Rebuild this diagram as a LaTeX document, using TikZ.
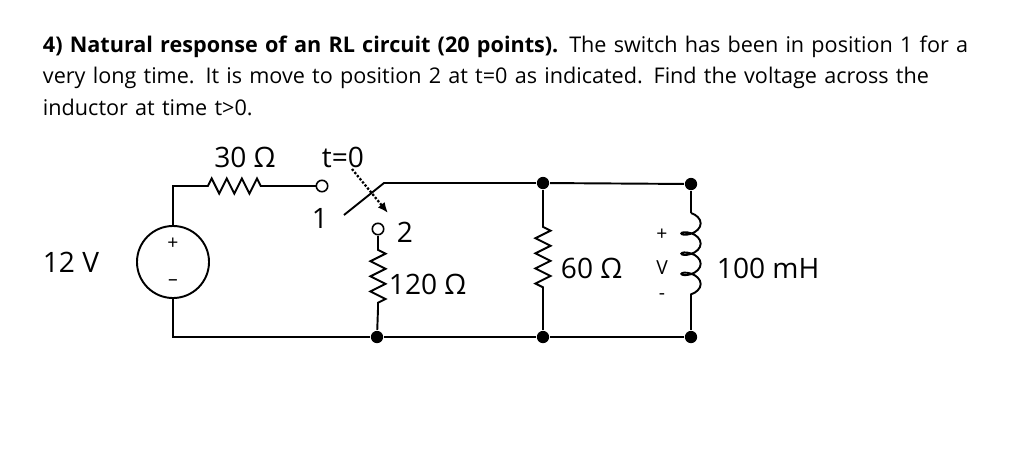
\documentclass[tikz,border=0pt]{standalone}
\usepackage{fontspec}
\setmainfont{Open Sans}
\usetikzlibrary{decorations.pathmorphing, arrows.meta}
\begin{document}
\begin{tikzpicture}[x=0.02cm, y=-0.02cm, line width=1.1pt,
    txt/.style={font=\fontsize{12.3}{18}\selectfont, inner sep=0},
    lbl/.style={font=\fontsize{16}{18}\selectfont, inner sep=0},
    sml/.style={font=\fontsize{11}{11}\selectfont, inner sep=0},
    res/.style={decorate, decoration={zigzag, amplitude=4.3pt, segment length=8.6pt,
        pre length=0.5pt, post length=0.5pt}},
    ind/.style={decorate, decoration={coil, aspect=0.55, amplitude=5.5pt, segment length=11.5pt}},
    dot/.style={circle, fill, inner sep=0, minimum size=7pt},
    term/.style={circle, draw, fill=white, inner sep=0, minimum size=6.5pt, line width=0.9pt}]
  \useasboundingbox (0,0) rectangle (1036,454);

  % problem text
  \node[txt, anchor=base west, align=left, text width=20cm] (para) at (42,52)
    {\textbf{4) Natural response of an RL circuit (20 points).} The switch has been in position 1 for a\\
     very long time. It is move to position 2 at t=0 as indicated. Find the voltage across the\\
     inductor at time t>0.};

  % nodes
  \node[circle, draw, minimum size=41pt, inner sep=0] (src) at (173,262) {};
  \node[sml] (plus) at (173,244) {+};
  \node[sml] (minus) at (173,283) {--};
  \coordinate (tl) at (173,186);
  \coordinate (bl) at (173,337);
  \coordinate (r30a) at (207,186);
  \coordinate (r30b) at (267,186);
  \node[term] (t1) at (322,186) {};
  \node[term] (t2) at (378,229) {};
  \coordinate (bladeA) at (344,215);
  \coordinate (bladeB) at (384,183);
  \coordinate (r120a) at (378,249);
  \coordinate (r120b) at (378,309);
  \node[dot] (b1) at (377,337) {};
  \node[dot] (a2) at (543,183) {};
  \node[dot] (b2) at (543,337) {};
  \node[dot] (a3) at (691,184) {};
  \node[dot] (b3) at (691,337) {};
  \coordinate (r60a) at (543,226);
  \coordinate (r60b) at (543,289);
  \coordinate (la) at (691,213);
  \coordinate (lb) at (691,302);
  \coordinate (arrA) at (352,169);
  \coordinate (arrB) at (388,213);

  % wires
  \draw (src.north) -- (tl) -- (r30a);
  \draw[res] (r30a) -- (r30b);
  \draw (r30b) -- (t1);
  \draw (bladeA) -- (bladeB) -- (a2) -- (a3);
  \draw (t2) -- (r120a);
  \draw[res] (r120a) -- (r120b);
  \draw (r120b) -- (b1);
  \draw (src.south) -- (bl) -- (b1) -- (b2) -- (b3);
  \draw (a2) -- (r60a);
  \draw[res] (r60a) -- (r60b);
  \draw (r60b) -- (b2);
  \draw (a3) -- (la);
  \draw[ind] (la) -- (lb);
  \draw (lb) -- (b3);
  \draw[densely dotted, line width=1.3pt, -{Latex[length=6pt,width=5pt]}] (arrA) -- (arrB);

  % labels
  \node[lbl] (l12) at (71,262) {12 V};
  \node[lbl] (l30) at (245,157) {30 Ω};
  \node[lbl] (lt) at (343,157) {t=0};
  \node[lbl] (l1) at (320,218) {1};
  \node[lbl] (l2) at (405,232) {2};
  \node[lbl, anchor=west] (l120) at (388,284) {120 Ω};
  \node[lbl, anchor=west] (l60) at (560,268) {60 Ω};
  \node[sml] (vp) at (662,235) {+};
  \node[sml] (vv) at (662,268) {V};
  \node[sml] (vm) at (662,297) {-};
  \node[lbl, anchor=west] (l100) at (716,268) {100 mH};
\end{tikzpicture}
\end{document}
